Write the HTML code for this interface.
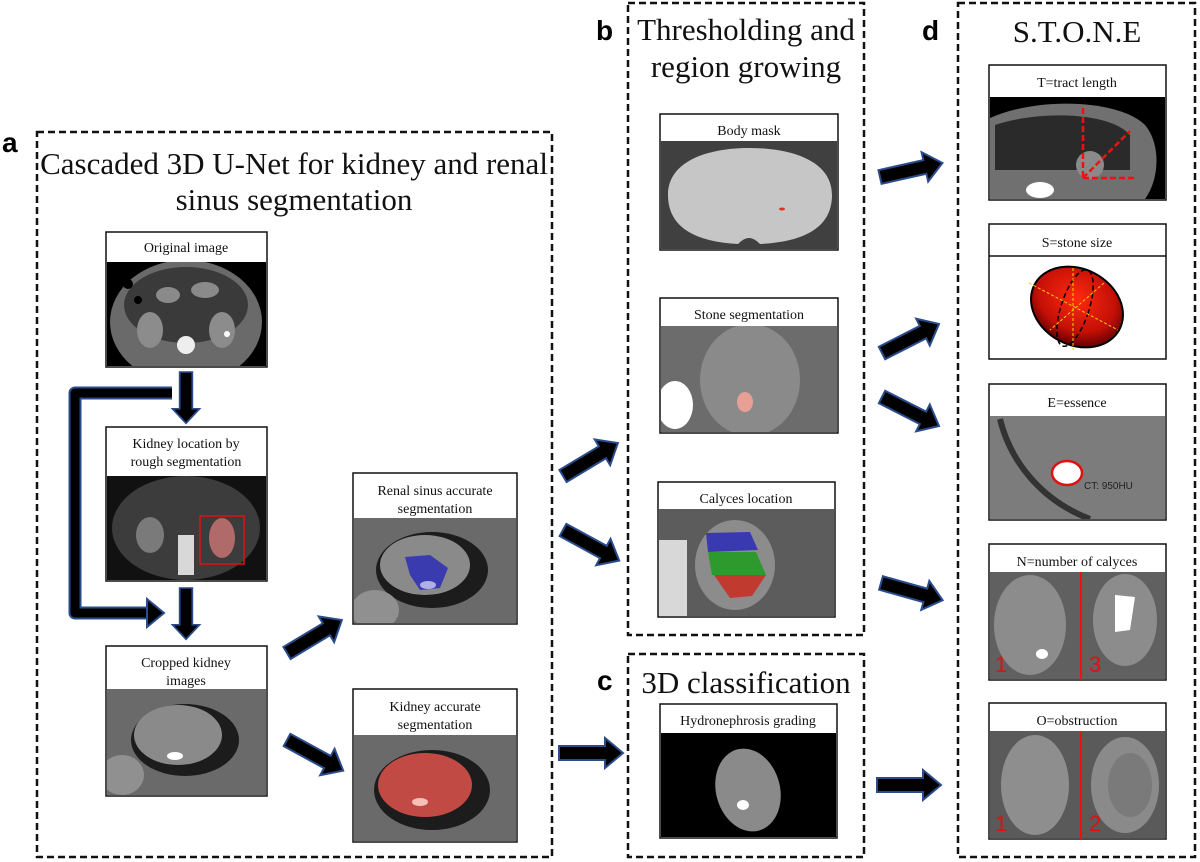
<!DOCTYPE html>
<html><head><meta charset="utf-8"><style>
html,body{margin:0;padding:0;background:#fff;}
svg{display:block;}
.t{font-family:"Liberation Serif",serif;fill:#111;}
.h{font-family:"Liberation Serif",serif;font-size:14px;fill:#111;text-anchor:middle;}
.L{font-family:"Liberation Sans",sans-serif;font-weight:bold;font-size:28px;fill:#000;}
.db{fill:none;stroke:#111;stroke-width:2.5;stroke-dasharray:7 4;}
.hb{fill:#fff;stroke:#111;stroke-width:1.5;}
</style></head><body>
<svg width="1200" height="862" viewBox="0 0 1200 862" xmlns="http://www.w3.org/2000/svg">
<defs>
<g id="ar"><polygon points="0,-7 46,-7 46,-15 64,0 46,15 46,7 0,7" fill="#000" stroke="#2a4c8c" stroke-width="2" stroke-linejoin="miter"/></g>
<radialGradient id="stone" cx="0.45" cy="0.4" r="0.6"><stop offset="0" stop-color="#ff2a10"/><stop offset="0.7" stop-color="#c41006"/><stop offset="1" stop-color="#600"/></radialGradient>
<clipPath id="c1"><rect x="107" y="262" width="159" height="104"/></clipPath>
<clipPath id="c2"><rect x="107" y="476" width="159" height="104"/></clipPath>
<clipPath id="c3"><rect x="107" y="689" width="159" height="106"/></clipPath>
<clipPath id="c4"><rect x="354" y="518" width="162" height="105"/></clipPath>
<clipPath id="c5"><rect x="354" y="735" width="162" height="106"/></clipPath>
<clipPath id="c6"><rect x="661" y="141" width="176" height="108"/></clipPath>
<clipPath id="c7"><rect x="661" y="326" width="176" height="106"/></clipPath>
<clipPath id="c8"><rect x="659" y="509" width="175" height="107"/></clipPath>
<clipPath id="c9"><rect x="661" y="733" width="175" height="104"/></clipPath>
<clipPath id="c10"><rect x="990" y="97" width="175" height="102"/></clipPath>
<clipPath id="c12"><rect x="990" y="416" width="175" height="103"/></clipPath>
<clipPath id="c13"><rect x="990" y="572" width="175" height="107"/></clipPath>
<clipPath id="c14"><rect x="990" y="731" width="175" height="107"/></clipPath>
</defs>

<text class="L" x="2" y="152">a</text>
<text class="L" x="596" y="40">b</text>
<text class="L" x="597" y="690">c</text>
<text class="L" x="922" y="40">d</text>

<rect class="db" x="37" y="132" width="515" height="725"/>
<rect class="db" x="628" y="3" width="236" height="632"/>
<rect class="db" x="628" y="654" width="236" height="203"/>
<rect class="db" x="958" y="3" width="237" height="854"/>

<text class="t" x="294" y="174" font-size="31" text-anchor="middle">Cascaded 3D U-Net for kidney and renal</text>
<text class="t" x="294" y="210" font-size="31" text-anchor="middle">sinus segmentation</text>
<text class="t" x="746" y="40" font-size="31" text-anchor="middle">Thresholding and</text>
<text class="t" x="746" y="77" font-size="31" text-anchor="middle">region growing</text>
<text class="t" x="746" y="693" font-size="31" text-anchor="middle">3D classification</text>
<text class="t" x="1077" y="42" font-size="31" text-anchor="middle">S.T.O.N.E</text>

<!-- Original image -->
<rect class="hb" x="106" y="232" width="161" height="135"/>
<text class="h" x="186" y="252">Original image</text>
<rect x="107" y="262" width="159" height="104" fill="#000"/>
<g clip-path="url(#c1)">
<ellipse cx="186" cy="322" rx="76" ry="62" fill="#6a6a6a"/>
<ellipse cx="186" cy="305" rx="62" ry="38" fill="#3a3a3a"/>
<ellipse cx="168" cy="295" rx="12" ry="8" fill="#8a8a8a"/><ellipse cx="205" cy="290" rx="14" ry="8" fill="#8a8a8a"/>
<ellipse cx="150" cy="330" rx="13" ry="18" fill="#8c8c8c"/><ellipse cx="222" cy="330" rx="13" ry="18" fill="#8c8c8c"/>
<circle cx="186" cy="345" r="9" fill="#eee"/><circle cx="227" cy="334" r="3" fill="#fff"/>
<circle cx="128" cy="284" r="5" fill="#000"/><circle cx="138" cy="300" r="4" fill="#000"/>
</g>

<!-- Kidney location -->
<rect class="hb" x="106" y="427" width="161" height="154"/>
<text class="h" x="186" y="448">Kidney location by</text>
<text class="h" x="186" y="466">rough segmentation</text>
<rect x="107" y="476" width="159" height="104" fill="#111"/>
<g clip-path="url(#c2)">
<ellipse cx="186" cy="528" rx="74" ry="52" fill="#3c3c3c"/>
<ellipse cx="150" cy="535" rx="14" ry="18" fill="#7a7a7a"/>
<rect x="178" y="535" width="16" height="40" fill="#d8d8d8"/>
<ellipse cx="222" cy="538" rx="13" ry="20" fill="#b06a6a"/>
</g>
<rect x="200" y="516" width="44" height="48" fill="none" stroke="#e01010" stroke-width="1.5"/>

<!-- Cropped -->
<rect class="hb" x="106" y="646" width="161" height="150"/>
<text class="h" x="186" y="667">Cropped kidney</text>
<text class="h" x="186" y="685">images</text>
<rect x="107" y="689" width="159" height="106" fill="#6a6a6a"/>
<g clip-path="url(#c3)">
<ellipse cx="185" cy="740" rx="54" ry="36" fill="#1c1c1c"/>
<ellipse cx="178" cy="735" rx="44" ry="30" fill="#8a8a8a"/>
<ellipse cx="122" cy="775" rx="22" ry="20" fill="#909090"/>
<ellipse cx="175" cy="756" rx="8" ry="4" fill="#fff"/>
</g>

<!-- Renal sinus -->
<rect class="hb" x="353" y="473" width="164" height="151"/>
<text class="h" x="435" y="495">Renal sinus accurate</text>
<text class="h" x="435" y="513">segmentation</text>
<rect x="354" y="518" width="162" height="105" fill="#6a6a6a"/>
<g clip-path="url(#c4)">
<ellipse cx="432" cy="570" rx="56" ry="38" fill="#1c1c1c"/>
<ellipse cx="425" cy="565" rx="45" ry="30" fill="#8a8a8a"/>
<ellipse cx="375" cy="610" rx="24" ry="20" fill="#909090"/>
<path d="M405,557 L430,555 L448,568 L440,588 L420,590 L410,575 Z" fill="#3b3bb0"/>
<ellipse cx="428" cy="585" rx="8" ry="4" fill="#b0b0e8"/>
</g>

<!-- Kidney accurate -->
<rect class="hb" x="353" y="689" width="164" height="153"/>
<text class="h" x="435" y="711">Kidney accurate</text>
<text class="h" x="435" y="729">segmentation</text>
<rect x="354" y="735" width="162" height="106" fill="#6a6a6a"/>
<g clip-path="url(#c5)">
<ellipse cx="432" cy="790" rx="58" ry="40" fill="#1c1c1c"/>
<ellipse cx="425" cy="785" rx="47" ry="32" fill="#c24a44"/>
<ellipse cx="420" cy="802" rx="8" ry="4" fill="#f4c0b8"/>
</g>

<!-- loop connector -->
<path d="M172,393 L75,393 L75,613 L150,613" fill="none" stroke="#2a4c8c" stroke-width="13" stroke-linejoin="round"/>
<path d="M172,393 L75,393 L75,613 L150,613" fill="none" stroke="#000" stroke-width="9" stroke-linejoin="round"/>
<polygon points="147,599 164,613 147,627" fill="#000" stroke="#2a4c8c" stroke-width="2"/>

<!-- arrows -->
<use href="#ar" transform="translate(186,372) rotate(90) scale(0.8,0.9)"/>
<use href="#ar" transform="translate(186,588) rotate(90) scale(0.8,0.9)"/>
<use href="#ar" transform="translate(287,653) rotate(-31)"/>
<use href="#ar" transform="translate(287,740) rotate(28.6)"/>
<use href="#ar" transform="translate(563,476) rotate(-31)"/>
<use href="#ar" transform="translate(563,530) rotate(28.6)"/>
<use href="#ar" transform="translate(559,753)"/>
<use href="#ar" transform="translate(880,177) rotate(-12.7)"/>
<use href="#ar" transform="translate(882,353) rotate(-27)"/>
<use href="#ar" transform="translate(882,397) rotate(27)"/>
<use href="#ar" transform="translate(881,583) rotate(15.6)"/>
<use href="#ar" transform="translate(877,785)"/>

<!-- Panel b -->
<rect class="hb" x="660" y="114" width="178" height="136"/>
<text class="h" x="749" y="135">Body mask</text>
<rect x="661" y="141" width="176" height="108" fill="#404040"/>
<g clip-path="url(#c6)">
<path d="M668,195 C668,160 710,148 749,148 C790,148 832,160 832,195 C832,230 800,242 760,244 C752,236 746,236 738,244 C700,242 668,230 668,195 Z" fill="#c6c6c6"/>
<ellipse cx="782" cy="209" rx="3" ry="1.5" fill="#e03020"/>
</g>

<rect class="hb" x="660" y="298" width="178" height="135"/>
<text class="h" x="749" y="319">Stone segmentation</text>
<rect x="661" y="326" width="176" height="106" fill="#6c6c6c"/>
<g clip-path="url(#c7)">
<ellipse cx="750" cy="380" rx="50" ry="56" fill="#8a8a8a"/>
<ellipse cx="675" cy="405" rx="18" ry="24" fill="#fff"/>
<ellipse cx="745" cy="402" rx="8" ry="10" fill="#e8a094"/>
</g>

<rect class="hb" x="658" y="482" width="177" height="135"/>
<text class="h" x="746" y="503">Calyces location</text>
<rect x="659" y="509" width="175" height="107" fill="#5c5c5c"/>
<g clip-path="url(#c8)">
<rect x="659" y="540" width="28" height="76" fill="#d8d8d8"/>
<ellipse cx="735" cy="565" rx="40" ry="45" fill="#8c8c8c"/>
<path d="M706,533 L750,532 L758,550 L708,552 Z" fill="#3a3ab0"/>
<path d="M708,552 L756,552 L766,575 L712,575 Z" fill="#2e9a2e"/>
<path d="M714,575 L766,575 L752,596 L730,598 Z" fill="#c03a30"/>
</g>

<rect class="hb" x="660" y="704" width="177" height="134"/>
<text class="h" x="748" y="725">Hydronephrosis grading</text>
<rect x="661" y="733" width="175" height="104" fill="#000"/>
<g clip-path="url(#c9)">
<ellipse cx="748" cy="790" rx="32" ry="42" fill="#8a8a8a" transform="rotate(-15 748 790)"/>
<ellipse cx="743" cy="805" rx="6" ry="5" fill="#fff"/>
</g>

<!-- Panel d -->
<rect class="hb" x="989" y="65" width="177" height="135"/>
<text class="h" x="1077" y="87">T=tract length</text>
<rect x="990" y="97" width="175" height="102" fill="#000"/>
<g clip-path="url(#c10)">
<path d="M990,118 C1040,96 1120,100 1145,125 C1162,145 1160,185 1140,205 L990,205 Z" fill="#707070"/>
<path d="M995,125 C1040,110 1110,112 1130,135 L1130,170 L995,170 Z" fill="#2a2a2a"/>
<ellipse cx="1040" cy="190" rx="14" ry="8" fill="#fff"/>
<ellipse cx="1090" cy="165" rx="14" ry="14" fill="#8a8a8a"/>
</g>
<g stroke="#f01010" stroke-width="2.5" stroke-dasharray="6 3" fill="none">
<line x1="1083" y1="108" x2="1083" y2="178"/><line x1="1083" y1="178" x2="1136" y2="178"/><line x1="1083" y1="178" x2="1130" y2="131"/></g>

<rect class="hb" x="989" y="224" width="177" height="135"/>
<text class="h" x="1077" y="247">S=stone size</text>
<line x1="989" y1="256" x2="1166" y2="256" stroke="#111" stroke-width="1.5"/>
<ellipse cx="1077" cy="307" rx="48" ry="38" fill="url(#stone)" stroke="#000" stroke-width="2" transform="rotate(28 1077 307)"/>
<ellipse cx="1075" cy="308" rx="14" ry="40" fill="none" stroke="#000" stroke-width="1.5" stroke-dasharray="5 3" transform="rotate(18 1075 308)"/>
<g stroke="#f5d000" stroke-width="1" stroke-dasharray="3 2"><line x1="1029" y1="283" x2="1118" y2="330"/><line x1="1104" y1="283" x2="1050" y2="330"/><line x1="1073" y1="268" x2="1073" y2="350"/></g>

<rect class="hb" x="989" y="384" width="177" height="136"/>
<text class="h" x="1077" y="407">E=essence</text>
<rect x="990" y="416" width="175" height="103" fill="#7c7c7c"/>
<g clip-path="url(#c12)">
<path d="M1000,419 C1010,460 1040,500 1090,519" fill="none" stroke="#333" stroke-width="6"/>
</g>
<ellipse cx="1067" cy="473" rx="15" ry="12" fill="#fff" stroke="#e01010" stroke-width="2.5"/>
<text x="1084" y="489" font-family="Liberation Sans,sans-serif" font-size="10" fill="#222">CT: 950HU</text>

<rect class="hb" x="989" y="544" width="177" height="136"/>
<text class="h" x="1077" y="566">N=number of calyces</text>
<rect x="990" y="572" width="175" height="107" fill="#606060"/>
<g clip-path="url(#c13)">
<ellipse cx="1030" cy="625" rx="36" ry="50" fill="#8c8c8c"/>
<ellipse cx="1125" cy="620" rx="32" ry="46" fill="#8c8c8c"/>
<path d="M1115,595 L1135,597 L1130,630 L1115,632 Z" fill="#fff"/>
<ellipse cx="1042" cy="654" rx="6" ry="5" fill="#fff"/>
</g>
<line x1="1081" y1="572" x2="1081" y2="680" stroke="#f01010" stroke-width="2"/>
<text x="995" y="672" font-family="Liberation Sans,sans-serif" font-size="22" fill="#e01010">1</text>
<text x="1089" y="672" font-family="Liberation Sans,sans-serif" font-size="22" fill="#e01010">3</text>

<rect class="hb" x="989" y="703" width="177" height="136"/>
<text class="h" x="1077" y="725">O=obstruction</text>
<rect x="990" y="731" width="175" height="107" fill="#5a5a5a"/>
<g clip-path="url(#c14)">
<ellipse cx="1035" cy="785" rx="34" ry="50" fill="#8e8e8e"/>
<ellipse cx="1125" cy="785" rx="34" ry="48" fill="#8a8a8a"/>
<ellipse cx="1130" cy="785" rx="22" ry="32" fill="#7a7a7a"/>
</g>
<line x1="1081" y1="731" x2="1081" y2="839" stroke="#f01010" stroke-width="2"/>
<text x="995" y="831" font-family="Liberation Sans,sans-serif" font-size="22" fill="#e01010">1</text>
<text x="1089" y="831" font-family="Liberation Sans,sans-serif" font-size="22" fill="#e01010">2</text>
</svg>
</body></html>
